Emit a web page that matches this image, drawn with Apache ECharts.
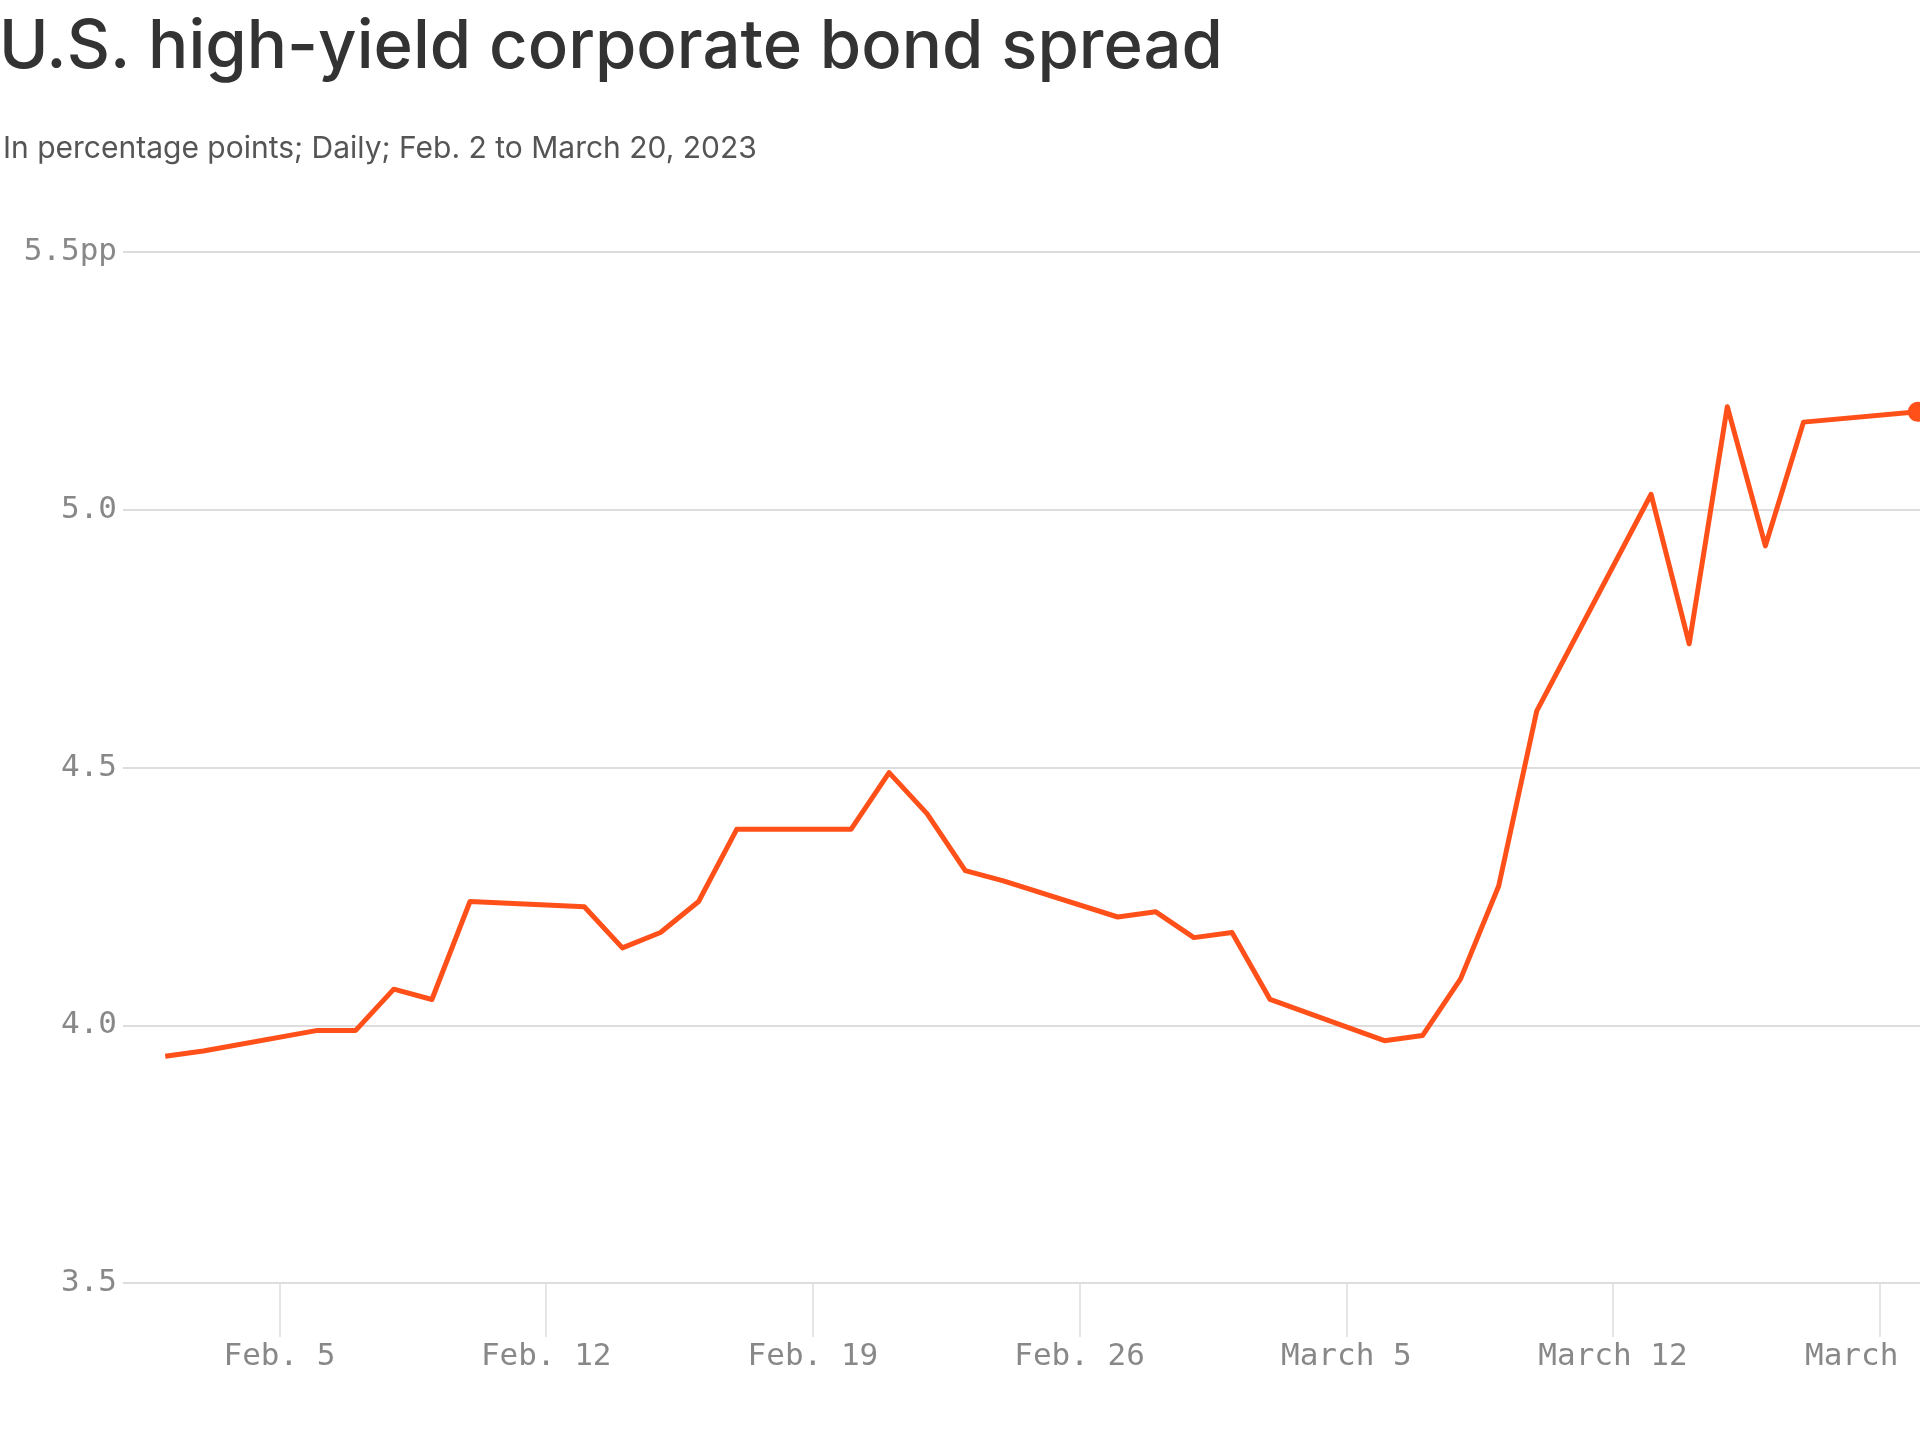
<!DOCTYPE html>
<html>
<head>
<meta charset="utf-8">
<script src="https://cdn.jsdelivr.net/npm/echarts@6/dist/echarts.min.js"></script>
<style>
  html, body { margin: 0; padding: 0; background: #fff; }
  #chart { width: 1920px; height: 1440px; }
</style>
</head>
<body>
<div id="chart"></div>
<script>
const dates = ['2023-02-02','2023-02-03','2023-02-06','2023-02-07','2023-02-08','2023-02-09','2023-02-10',
  '2023-02-13','2023-02-14','2023-02-15','2023-02-16','2023-02-17','2023-02-20','2023-02-21','2023-02-22',
  '2023-02-23','2023-02-24','2023-02-27','2023-02-28','2023-03-01','2023-03-02','2023-03-03','2023-03-06',
  '2023-03-07','2023-03-08','2023-03-09','2023-03-10','2023-03-13','2023-03-14','2023-03-15','2023-03-16',
  '2023-03-17','2023-03-20'];
const spread = [3.94,3.95,3.99,3.99,4.07,4.05,4.24,
  4.23,4.15,4.18,4.24,4.38,4.38,4.49,4.41,
  4.30,4.28,4.21,4.22,4.17,4.18,4.05,3.97,
  3.98,4.09,4.27,4.61,5.03,4.74,5.20,4.93,
  5.17,5.19];
const tickDates = ['2023-02-05','2023-02-12','2023-02-19','2023-02-26','2023-03-05','2023-03-12','2023-03-19'];
const tickLabels = ['Feb. 5','Feb. 12','Feb. 19','Feb. 26','March 5','March 12','March 19'];
const yTicks = [3.5, 4.0, 4.5, 5.0, 5.5];
const yTickLabels = ['3.5','4.0','4.5','5.0','5.5pp'];

function dayNum(s) {
  const p = s.split('-').map(Number);
  return Date.UTC(p[0], p[1] - 1, p[2]) / 86400000;
}
const xs = dates.map(dayNum);
const tickXs = tickDates.map(dayNum);
const seriesData = xs.map((x, i) => [x, spread[i]]);
const lastIdx = seriesData.length - 1;

const plotLeft = 123, plotRight = 1920;
const pxPerDay = 38.1;
const xMin = dayNum('2023-02-05') - (279.5 - plotLeft) / pxPerDay;
const xMax = xMin + (plotRight - plotLeft) / pxPerDay;

const mono = '"DejaVu Sans Mono", monospace';
const chart = echarts.init(document.getElementById('chart'), null, { renderer: 'canvas' });
chart.setOption({
  backgroundColor: '#ffffff',
  animation: false,
  title: [
    { text: 'U.S. high-yield corporate bond spread', left: -6, top: 9,
      textStyle: { fontFamily: 'Inter', fontSize: 67, fontWeight: 500, color: '#333333' } },
    { text: 'In percentage points; Daily; Feb. 2 to March 20, 2023', left: -2, top: 129,
      textStyle: { fontFamily: 'Inter', fontSize: 30, fontWeight: 400, color: '#555555' } }
  ],
  grid: { left: plotLeft, right: 1920 - plotRight, top: 252, bottom: 157,
    containLabel: false, outerBoundsMode: 'none' },
  xAxis: {
    type: 'value', min: xMin, max: xMax,
    axisLine: { show: false },
    splitLine: { show: false },
    axisTick: { show: true, customValues: tickXs, length: 54, lineStyle: { color: '#dddddd', width: 1.5 } },
    axisLabel: {
      customValues: tickXs, margin: 58, color: '#888888', fontFamily: mono, fontSize: 31,
      hideOverlap: false,
      formatter: function (v) {
        const i = tickXs.findIndex(t => Math.abs(t - v) < 0.01);
        return i >= 0 ? tickLabels[i] : '';
      }
    }
  },
  yAxis: {
    type: 'value', min: 3.5, max: 5.5, interval: 0.5,
    axisLine: { show: false }, axisTick: { show: false },
    splitLine: { lineStyle: { color: '#dddddd', width: 2 } },
    axisLabel: {
      margin: 6, color: '#888888', fontFamily: mono, fontSize: 31, padding: [4, 0, 0, 0],
      formatter: function (v) {
        const i = yTicks.findIndex(t => Math.abs(t - v) < 1e-6);
        return i >= 0 ? yTickLabels[i] : '';
      }
    }
  },
  series: [{
    type: 'line',
    data: seriesData,
    showAllSymbol: true,
    symbol: 'circle',
    symbolSize: function (v, p) { return p.dataIndex === lastIdx ? 20 : 0; },
    itemStyle: { color: '#ff5019' },
    lineStyle: { color: '#ff5019', width: 5, join: 'round' },
    clip: false,
    emphasis: { disabled: true }
  }]
});
</script>
</body>
</html>
